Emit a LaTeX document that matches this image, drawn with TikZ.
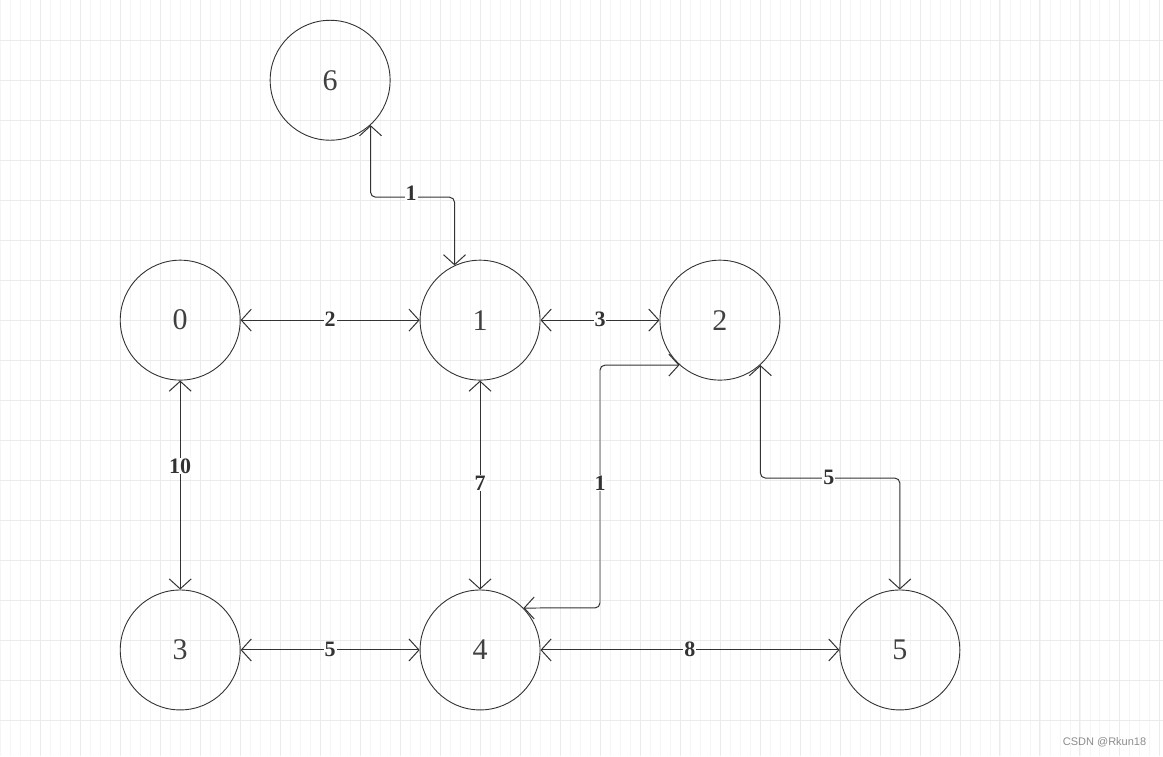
\documentclass[tikz,border=0pt]{standalone}
\usetikzlibrary{arrows.meta}
\usepackage{fontspec}
\setmainfont{Liberation Serif}
\newfontfamily\wm{Liberation Sans}
\begin{document}
\begin{tikzpicture}[x=1pt,y=-1pt,
  vx/.style={circle,draw=black!80,line width=0.9pt,minimum size=120pt,inner sep=0pt,font=\fontsize{30}{30}\selectfont,text=black!75},
  ed/.style={draw=black!80,line width=1pt,{Straight Barb[length=10pt,width=22pt]}-{Straight Barb[length=10pt,width=22pt]},rounded corners=5pt},
  lbl/.style={fill=white,inner sep=1pt,font=\bfseries\fontsize{22}{22}\selectfont,text=black!80}]
\fill[white] (0,0) rectangle (1163,756);
\draw[black!4,line width=0.5pt] (0,0) grid[step=10] (1163,756);
\foreach \x in {40,80,...,1160} \draw[black!8,line width=0.6pt] (\x,0) -- (\x,756);
\foreach \y in {40,80,...,750} \draw[black!8,line width=0.6pt] (0,\y) -- (1163,\y);
\useasboundingbox (0,0) rectangle (1163,756);
\node[vx] (n6) at (330,80) {6};
\node[vx] (n0) at (180,320) {0};
\node[vx] (n1) at (480,320) {1};
\node[vx] (n2) at (720,320) {2};
\node[vx] (n3) at (180,650) {3};
\node[vx] (n4) at (480,650) {4};
\node[vx] (n5) at (900,650) {5};
\draw[ed] (n6.-48) -- (n6.-48 |- 0,197) -- (n1.115 |- 0,197) -- (n1.115);
\draw[ed] (n0) -- (n1);
\draw[ed] (n1) -- (n2);
\draw[ed] (n0) -- (n3);
\draw[ed] (n1) -- (n4);
\draw[ed] (n3) -- (n4);
\draw[ed] (n4) -- (n5);
\draw[ed] (n4.44) -- (600,608) -- (600,365) -- (n2.228);
\draw[ed] (n2.-48) -- (n2.-48 |- 0,478) -- (n5.north |- 0,478) -- (n5.north);
\node[lbl] (l61) at (411,193) {1};
\node[lbl] (l01) at (330,319) {2};
\node[lbl] (l12) at (600,319) {3};
\node[lbl] (l03) at (180,466) {10};
\node[lbl] (l14) at (480,483) {7};
\node[lbl] (l42) at (600,483) {1};
\node[lbl] (l25) at (829,477) {5};
\node[lbl] (l34) at (330,649) {5};
\node[lbl] (l45) at (690,649) {8};
\node[font=\wm\fontsize{11}{11}\selectfont,text=black!45,anchor=east] (wm) at (1150,742) {CSDN @Rkun18};
\end{tikzpicture}
\end{document}
